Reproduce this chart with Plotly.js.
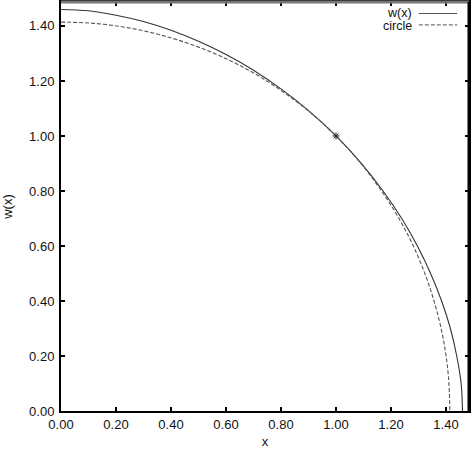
<!DOCTYPE html>
<html>
<head>
<meta charset="utf-8">
<script src="https://cdn.plot.ly/plotly-3.0.1.min.js"></script>
<style>html,body{margin:0;padding:0;background:#fff;}#chart{width:474px;height:452px;}</style>
</head>
<body>
<div id="chart"></div>
<script>
// w(x) curve points
const wX = [0.000, 0.100, 0.200, 0.300, 0.400, 0.500, 0.600, 0.700, 0.800, 0.900, 1.000,
            1.092, 1.171, 1.239, 1.296, 1.344, 1.384, 1.416, 1.439, 1.455, 1.460];
const wY = [1.460, 1.455, 1.439, 1.416, 1.384, 1.344, 1.296, 1.239, 1.171, 1.092, 1.000,
            0.900, 0.800, 0.700, 0.600, 0.500, 0.400, 0.300, 0.200, 0.100, 0.000];
// circle points
const circleX = [0.000, 0.123, 0.246, 0.366, 0.484, 0.598, 0.707, 0.811, 0.909, 1.000,
                 1.083, 1.158, 1.225, 1.282, 1.329, 1.366, 1.393, 1.409, 1.414];
const circleY = [1.414, 1.409, 1.393, 1.366, 1.329, 1.282, 1.225, 1.158, 1.083, 1.000,
                 0.909, 0.811, 0.707, 0.598, 0.484, 0.366, 0.246, 0.123, 0.000];
// marked point
const markX = [1.0];
const markY = [1.0];
const tickVals = [0, 0.2, 0.4, 0.6, 0.8, 1.0, 1.2, 1.4];
const tickText = ['0.00', '0.20', '0.40', '0.60', '0.80', '1.00', '1.20', '1.40'];
const legendNames = ['w(x)', 'circle'];

const font = {family: 'Liberation Sans, Arial, Helvetica, sans-serif', size: 13, color: '#111'};
const legFont = {family: 'Liberation Sans, Arial, Helvetica, sans-serif', size: 12.5, color: '#111'};

const traces = [
  {x: wX, y: wY, mode: 'lines', name: legendNames[0], line: {color: '#333', width: 1.1, shape: 'spline'}},
  {x: circleX, y: circleY, mode: 'lines', name: legendNames[1], line: {color: '#555', width: 1.1, dash: '4px,2px', shape: 'spline'}},
  {x: markX, y: markY, mode: 'markers', showlegend: false, marker: {symbol: 'asterisk-open', size: 6, color: '#222', line: {width: 1, color: '#222'}}}
];

const axisCommon = {
  tickmode: 'array', tickvals: tickVals, ticktext: tickText,
  ticks: 'inside', ticklen: 4, tickwidth: 1.2, tickcolor: '#000',
  showline: true, linecolor: '#000', linewidth: 2, mirror: 'ticks',
  showgrid: false, zeroline: false, tickfont: font, automargin: false
};

const layout = {
  width: 474, height: 452,
  margin: {l: 61, r: 5, t: 2, b: 41},
  paper_bgcolor: '#fff', plot_bgcolor: '#fff',
  showlegend: false,
  font: font,
  xaxis: Object.assign({}, axisCommon, {range: [0, 1.4836], title: {text: 'x', font: font, standoff: 6}}),
  yaxis: Object.assign({}, axisCommon, {range: [0, 1.487], ticklabelstandoff: 2, title: {text: 'w(x)', font: font, standoff: 16}}),
  shapes: [
    {type: 'line', xref: 'paper', yref: 'paper', x0: 0, x1: 1, y0: 1, y1: 1, line: {color: '#777', width: 3}},
    {type: 'line', xref: 'paper', yref: 'paper', x0: 1, x1: 1, y0: 0, y1: 1, line: {color: '#000', width: 3}},
    {type: 'line', xref: 'paper', yref: 'paper', x0: 0.877, x1: 0.971, y0: 0.972, y1: 0.972, line: {color: '#555', width: 1.1}},
    {type: 'line', xref: 'paper', yref: 'paper', x0: 0.877, x1: 0.971, y0: 0.944, y1: 0.944, line: {color: '#777', width: 1.1, dash: '4px,2px'}}
  ],
  annotations: [
    {xref: 'paper', yref: 'paper', x: 0.862, y: 0.974, xanchor: 'right', yanchor: 'middle', text: legendNames[0], showarrow: false, font: legFont, borderpad: 0},
    {xref: 'paper', yref: 'paper', x: 0.862, y: 0.942, xanchor: 'right', yanchor: 'middle', text: legendNames[1], showarrow: false, font: legFont, borderpad: 0}
  ]
};

Plotly.newPlot('chart', traces, layout, {staticPlot: true, displayModeBar: false});
</script>
</body>
</html>
